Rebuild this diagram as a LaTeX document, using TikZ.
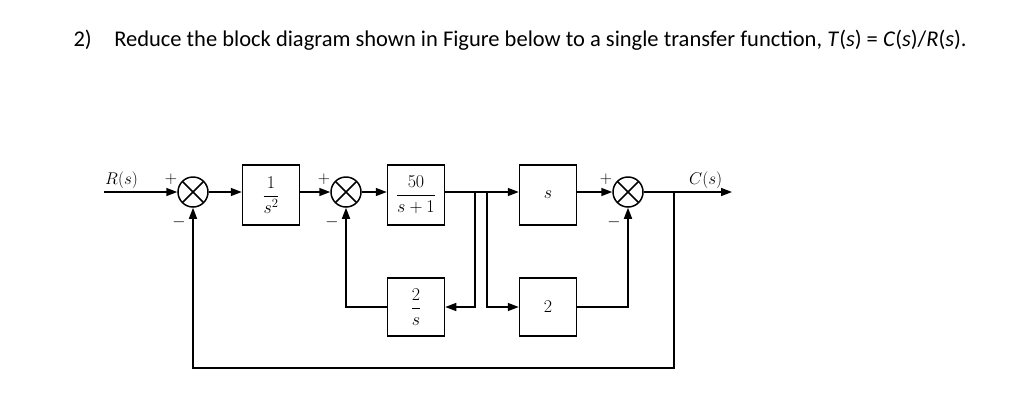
\RequirePackage{fix-cm}
\documentclass[tikz,border=0pt]{standalone}
\usepackage{amsmath}
\usepackage{fontspec}
\newfontfamily\titlefont{Carlito}
\usetikzlibrary{arrows.meta,positioning,calc}
\begin{document}
\begin{tikzpicture}[x=1pt,y=-1pt,
    block/.style={draw, line width=1.5pt, minimum width=57pt, minimum height=60pt, inner sep=0pt, font=\fontsize{18}{20}\selectfont},
    lowblock/.style={block, minimum height=58pt},
    sum/.style={draw, line width=1.5pt, circle, minimum size=30pt, inner sep=0pt, path picture={
        \draw[line width=1.5pt] (path picture bounding box.north west) -- (path picture bounding box.south east)
              (path picture bounding box.north east) -- (path picture bounding box.south west);}},
    arrow/.style={-{Triangle[length=11pt,width=8pt]}, line width=1.5pt},
    line/.style={line width=1.5pt},
    sign/.style={font=\fontsize{17}{17}\selectfont, inner sep=1pt}
]
    \useasboundingbox (0,0) rectangle (1024,408);
    % Title
    \node[anchor=west, font=\titlefont\fontsize{22.5}{24}\selectfont] (title) at (70,40)
        {2)\quad Reduce the block diagram shown in Figure below to a single transfer function, \textit{T}(\textit{s}) = \textit{C}(\textit{s})/\textit{R}(\textit{s}).};

    % Forward path
    \coordinate (in) at (104,192);
    \node[sum] (sum1) at (193,192) {};
    \node[block] (g1) at (271,195) {$\dfrac{1}{s^2}$};
    \node[sum] (sum2) at (346,192) {};
    \node[block] (g2) at (416,195) {$\dfrac{50}{s+1}$};
    \node[block] (g3) at (548,195) {$s$};
    \node[sum] (sum3) at (628,192) {};
    \coordinate (out) at (732,192);

    % Feedback blocks
    \node[lowblock] (h1) at (416,307) {$\dfrac{2}{s}$};
    \node[lowblock] (h2) at (548,307) {$2$};

    % Branch points
    \coordinate (b1) at (475,192);
    \coordinate (b2) at (487,192);
    \coordinate (b3) at (674,192);

    % Labels
    \node[sign, anchor=south west] (rlbl) at (104,190) {$R(s)$};
    \node[sign, anchor=south west] (clbl) at (688,190) {$C(s)$};
    \foreach \s in {sum1,sum2,sum3}{
        \node[sign] at ($(\s)+(-22,-13)$) {$+$};
        \node[sign] at ($(\s)+(-14,30)$) {$-$};
    }

    % Connectors
    \draw[arrow] (in) -- (sum1);
    \draw[arrow] (sum1) -- (g1.west |- sum1);
    \draw[arrow] (g1.east |- sum2) -- (sum2);
    \draw[arrow] (sum2) -- (g2.west |- sum2);
    \draw[line] (g2.east |- sum2) -- (b2);
    \draw[arrow] (b2) -- (g3.west |- b2);
    \draw[arrow] (g3.east |- sum3) -- (sum3);
    \draw[arrow] (sum3) -- (out);

    \draw[arrow] (b1) |- (h1.east);
    \draw[arrow] (h1.west) -| (sum2.south);
    \draw[arrow] (b2) |- (h2.west);
    \draw[arrow] (h2.east) -| (sum3.south);
    \draw[arrow] (b3) -- ++(0,176) -| (sum1.south);
\end{tikzpicture}
\end{document}
